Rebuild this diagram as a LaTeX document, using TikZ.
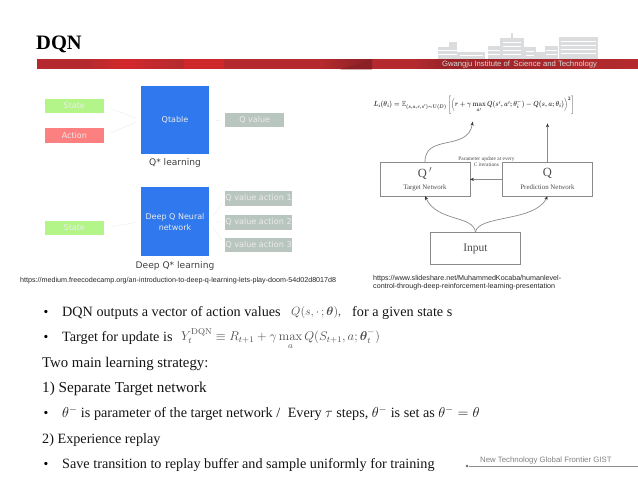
\documentclass[tikz,border=0pt]{standalone}
\usepackage[no-math]{fontspec}
\usepackage{amsmath,amssymb,graphicx}
\setmainfont{Liberation Serif}
\newfontfamily\arialf{Liberation Sans}
\newfontfamily\dejaf{DejaVu Sans}
\usetikzlibrary{arrows.meta}
\definecolor{softgreen}{HTML}{B4F58A}
\definecolor{softred}{HTML}{FC8080}
\definecolor{softblue}{HTML}{2F78EE}
\definecolor{softgrey}{HTML}{B9C6C0}
\definecolor{linegrey}{HTML}{8A8A8A}
\definecolor{faint}{HTML}{F2F2EE}
\definecolor{barA}{HTML}{B42A2E}
\definecolor{barB}{HTML}{D2282C}
\definecolor{barC}{HTML}{8A2024}
\definecolor{barD}{HTML}{9A2428}
\definecolor{bldg}{HTML}{DADCDE}
\newcommand{\fs}[1]{\fontsize{#1}{#1}\selectfont}
\newcommand{\gradstrip}[4]{%
  \foreach \stepi in {0,...,15}{%
    \pgfmathsetmacro{\pctval}{\stepi*100/15}%
    \pgfmathsetmacro{\xa}{#1+(#2-#1)*\stepi/16}%
    \pgfmathsetmacro{\xb}{#1+(#2-#1)*(\stepi+1)/16+0.3}%
    \fill[#4!\pctval!#3] (\xa,59.5) rectangle (\xb,69.5);
  }}
\tikzset{
  flatbox/.style={inner sep=0pt,outer sep=0pt,align=center,text=white!92!black,font=\dejaf\fs{8}},
  greenbox/.style={flatbox,fill=softgreen,minimum width=59.3pt,minimum height=14.7pt},
  redbox/.style={flatbox,fill=softred,minimum width=59.3pt,minimum height=14.7pt},
  bluebox/.style={flatbox,fill=softblue,minimum width=68.6pt,minimum height=68.6pt},
  greybox/.style={flatbox,fill=softgrey,minimum width=58.7pt,minimum height=14.7pt},
  greywide/.style={flatbox,fill=softgrey,minimum width=66.4pt,minimum height=14.7pt,font=\dejaf\fs{8.1}},
  faintline/.style={draw=faint,line width=0.7pt,shorten >=5pt,shorten <=7pt},
  captext/.style={inner sep=0pt,text=black!75,font=\dejaf\fs{9.1}},
  netbox/.style={draw=linegrey,line width=0.8pt,minimum width=90pt,minimum height=33.4pt,inner sep=0pt,outer sep=0pt},
  inbox/.style={netbox,minimum height=32.3pt},
  netarrow/.style={draw=linegrey,line width=0.7pt,-{Stealth[length=4pt,width=3.2pt,black!80]}},
  nettext/.style={inner sep=0pt,text=black!70,align=center},
  bodytext/.style={inner sep=0pt,anchor=west,text=black!92,font=\fs{14.2}},
  bulletmark/.style={inner sep=0pt,anchor=center,font=\fs{13.6}},
  urltext/.style={inner sep=0pt,anchor=west,text=black!85,font=\arialf\fs{7.15}},
  windows/.style={draw=white,line width=0.7pt}
}
\begin{document}
\begin{tikzpicture}[x=1pt,y=-1pt]
\useasboundingbox (0,0) rectangle (638,478);
% header bar
\fill[barA] (37,59.5) rectangle (638,69.5);
\gradstrip{87}{125}{barA}{barB}
\gradstrip{125}{185}{barB}{barA}
\fill[barB!90!barA] (184,59.5) rectangle (224,69.5);
\gradstrip{320}{372}{barA}{barC}
\fill[barC] (340,69.5) -- (372,59.5) -- (372,69.5) -- cycle;
\gradstrip{414}{445}{barA}{barD}
\gradstrip{445}{638}{barD}{barA}
% logo buildings
\fill[bldg] (438,47) rectangle (457,59);
\fill[bldg] (449,42) rectangle (457,59);
\fill[bldg] (457,52) rectangle (485,59);
\fill[bldg] (488,46) rectangle (500,59);
\fill[bldg] (500,38) rectangle (524,59);
\fill[bldg] (511,33) rectangle (513,38);
\fill[bldg] (524,47) rectangle (536,59);
\fill[bldg] (536,52) rectangle (545,59);
\fill[bldg] (545,46) rectangle (558,59);
\fill[bldg] (559,37) rectangle (598,59);
\draw[windows] (438,50) -- (457,50) (438,54) -- (457,54) (488,50) -- (500,50) (488,54) -- (500,54)
  (503,42) -- (521,42) (503,46) -- (521,46) (503,50) -- (521,50) (503,54) -- (521,54)
  (546,50) -- (557,50) (546,54) -- (557,54) (561,41) -- (596,41) (561,45) -- (596,45) (561,49) -- (596,49) (561,53) -- (596,53)
  (460,55) -- (483,55) (526,51) -- (534,51) (526,55) -- (534,55);
\node[inner sep=0pt,text=white!85!black,font=\arialf\fs{7.7}] (gist) at (519.5,64.5) {Gwangju Institute of\, Science and Technology};
\node[inner sep=0pt,anchor=west,font=\bfseries\fs{20.5}] (title) at (36,44) {DQN};
% left diagram
\node[greenbox] (st1) at (74.3,106) {State};
\node[redbox] (act) at (74.3,135.8) {Action};
\node[bluebox] (qt) at (175,120) {Qtable};
\node[greybox] (qv) at (254.7,120) {Q value};
\node[captext] (c1) at (175,163) {Q* learning};
\node[greenbox] (st2) at (74.3,228) {State};
\node[bluebox] (dq) at (175,221.7) {Deep Q Neural\\[3pt]network};
\node[greywide] (q1) at (258.5,198.3) {Q value action 1};
\node[greywide] (q2) at (258.5,222.3) {Q value action 2};
\node[greywide] (q3) at (258.5,245) {Q value action 3};
\node[captext] (c2) at (175,266) {Deep Q* learning};
\draw[faintline] (st1.east) -- (qt.west);
\draw[faintline] (act.east) -- (qt.west);
\draw[faintline] (qt.east) -- (qv.west);
\draw[faintline] (st2.east) -- (dq.west);
\draw[faintline] (dq.east) -- (q1.west);
\draw[faintline] (dq.east) -- (q2.west);
\draw[faintline] (dq.east) -- (q3.west);
\node[urltext] (u1) at (20,280.5) {https://medium.freecodecamp.org/an-introduction-to-deep-q-learning-lets-play-doom-54d02d8017d8};
% right diagram
\node[inner sep=0pt,text=black!80] (loss) at (474,105) {\scalebox{0.63}[0.74]{$\boldsymbol{L_i(\theta_i)=\mathbb{E}_{(s,a,r,s')\sim\mathrm{U}(D)}\left[\left(r+\gamma\max\limits_{a'}Q(s',a';\theta_i^-)-Q(s,a;\theta_i)\right)^{2}\right]}$}};
\coordinate (lossL) at (472.7,121.7);
\coordinate (lossR) at (547.5,123.3);
\node[netbox] (tn) at (425,179.4) {};
\node[netbox] (pn) at (547.5,179.4) {};
\node[inbox] (inp) at (475.5,248.2) {};
\node[nettext,font=\fs{12.5}] (qa) at (425,173.5) {Q\,$'$};
\node[nettext,font=\fs{6.9}] (ta) at (425,187.5) {Target Network};
\node[nettext,font=\fs{12.5}] (qb) at (547.5,173.5) {Q};
\node[nettext,font=\fs{6.9}] (tb) at (547.5,187.5) {Prediction Network};
\node[nettext,font=\fs{11.5}] (ti) at (475.5,248.5) {Input};
\node[nettext,font=\fs{5.4}] (pu) at (486.5,161.5) {Parameter update at every\\[1.2pt]C iterations};
\draw[netarrow] (tn.north) .. controls (424,133) and (468,152) .. (lossL);
\draw[netarrow] (pn.north) -- (lossR);
\draw[netarrow] (pn.west) -- (tn.east);
\draw[netarrow] (inp.north) .. controls (473,215) and (437,222) .. (tn.south);
\draw[netarrow] (inp.north) .. controls (478,215) and (535,222) .. (pn.south);
\node[urltext,align=left] (u2) at (373,282.5) {https://www.slideshare.net/MuhammedKocaba/humanlevel-\\[1.5pt]control-through-deep-reinforcement-learning-presentation};
% body text
\node[bulletmark] (b1) at (46,313) {•};
\node[bodytext] (t1) at (62,313) {DQN outputs a vector of action values};
\node[inner sep=0pt,anchor=west,text=black!70,font=\fs{12}] (m1) at (291,313) {$Q(s,\cdot\,;\boldsymbol{\theta})$,};
\node[bodytext] (t1b) at (352,313) {for a given state s};
\node[bulletmark] (b2) at (46,338) {•};
\node[bodytext] (t2) at (62,338) {Target for update is};
\node[inner sep=0pt,anchor=west,text=black!70,font=\fs{12}] (m2) at (181,339) {\scalebox{1.063}{$Y_t^{\mathrm{DQN}}\equiv R_{t+1}+\gamma\max\limits_{a}Q(S_{t+1},a;\boldsymbol{\theta}_t^-)$}};
\node[bodytext,font=\fs{14.8}] (t3) at (42,364) {Two main learning strategy:};
\node[bodytext,font=\fs{15.2}] (t4) at (42,389) {1) Separate Target network};
\node[bulletmark] (b3) at (46,414) {•};
\node[bodytext] (t5) at (62,414) {$\theta^-$ is parameter of the target network /\; Every $\tau$ steps, $\theta^-$ is set as $\theta^-=\theta$};
\node[bodytext] (t6) at (42,440) {2) Experience replay};
\node[bulletmark] (b4) at (46,465) {•};
\node[bodytext] (t7) at (62,465) {Save transition to replay buffer and sample uniformly for training};
% footer
\node[inner sep=0pt,anchor=west,text=black!50,font=\arialf\fs{7.8}] (ft) at (480,460.5) {New Technology Global Frontier GIST};
\node[circle,fill=black!60,minimum size=2.6pt,inner sep=0pt] (fd) at (467,466) {};
\coordinate (fe) at (638,466);
\draw[black!45,line width=0.6pt] (fd) -- (fe);
\end{tikzpicture}
\end{document}
